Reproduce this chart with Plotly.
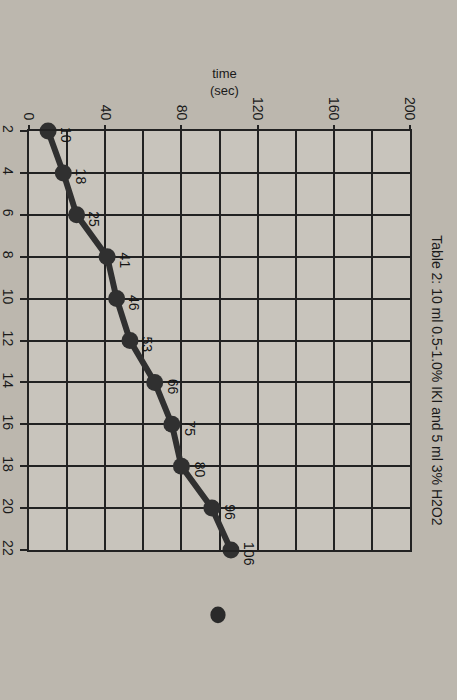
import plotly.graph_objects as go

# Data (graph x value, time in seconds)
x_vals = [2, 4, 6, 8, 10, 12, 14, 16, 18, 20, 22]
time_sec = [10, 18, 25, 41, 46, 53, 66, 75, 80, 96, 106]
x_ticks = [2, 4, 6, 8, 10, 12, 14, 16, 18, 20, 22]
time_ticks = [0, 40, 80, 120, 160, 200]

title_text = "Table 2: 10 ml 0.5-1.0% IKI and 5 ml 3% H2O2"
axis_title = "time<br>(sec)"

ink = "#222222"
font_family = "Liberation Sans, Arial, sans-serif"

fig = go.Figure()
fig.add_trace(go.Scatter(
    x=time_sec, y=x_vals, mode="lines+markers",
    line=dict(color="#303030", width=6),
    marker=dict(color="#303030", size=17),
    cliponaxis=False, showlegend=False, hoverinfo="skip",
))

# rotated value labels next to each point
for xv, tv in zip(x_vals, time_sec):
    fig.add_annotation(
        x=tv, y=xv, text=str(tv), textangle=90, showarrow=False,
        xshift=18, yshift=-4,
        font=dict(family=font_family, size=14, color="#151515"),
    )

# rotated chart title
fig.add_annotation(
    xref="paper", yref="paper", x=1.07, y=0.406, text=title_text,
    textangle=90, showarrow=False, xanchor="center", yanchor="middle",
    font=dict(family=font_family, size=14, color="#1a1a1a"),
)
# axis title (horizontal)
fig.add_annotation(
    xref="paper", yref="paper", x=0.514, y=1.075, text=axis_title,
    showarrow=False, xanchor="center", yanchor="bottom",
    font=dict(family=font_family, size=13, color="#1a1a1a"),
)

# stray dot on the page
fig.add_shape(type="circle", xref="paper", yref="paper",
              x0=0.476, x1=0.516, y0=-0.175, y1=-0.135,
              fillcolor="#2a2a2a", line=dict(width=0))

fig.update_xaxes(
    range=[0, 200], side="top", automargin=False,
    tickvals=time_ticks, ticktext=[str(t) for t in time_ticks],
    tickangle=90, ticks="outside", ticklen=4, tickcolor=ink, tickwidth=1.5,
    ticklabelstandoff=0,
    showgrid=True, gridcolor=ink, gridwidth=1.5,
    minor=dict(dtick=20, tick0=0, showgrid=True, gridcolor=ink, gridwidth=1.5),
    showline=True, linecolor=ink, linewidth=1.5, mirror=True,
    zeroline=False,
    tickfont=dict(family=font_family, size=14, color="#1a1a1a"),
)
fig.update_yaxes(
    range=[22, 2], automargin=False,
    tickvals=x_ticks, ticktext=[str(t) for t in x_ticks],
    tickangle=90, ticks="outside", ticklen=7, tickcolor=ink, tickwidth=1.5,
    showgrid=True, gridcolor=ink, gridwidth=1.5,
    showline=True, linecolor=ink, linewidth=1.5, mirror=True,
    zeroline=False,
    tickfont=dict(family=font_family, size=14, color="#1a1a1a"),
)

fig.update_layout(
    width=457, height=700,
    margin=dict(l=29, r=47, t=131, b=150),
    paper_bgcolor="#bcb7ae",
    plot_bgcolor="#c8c4bc",
    showlegend=False,
)

fig.write_html("out.html", config={"displayModeBar": False},
               post_script="document.body.style.margin='0';")
